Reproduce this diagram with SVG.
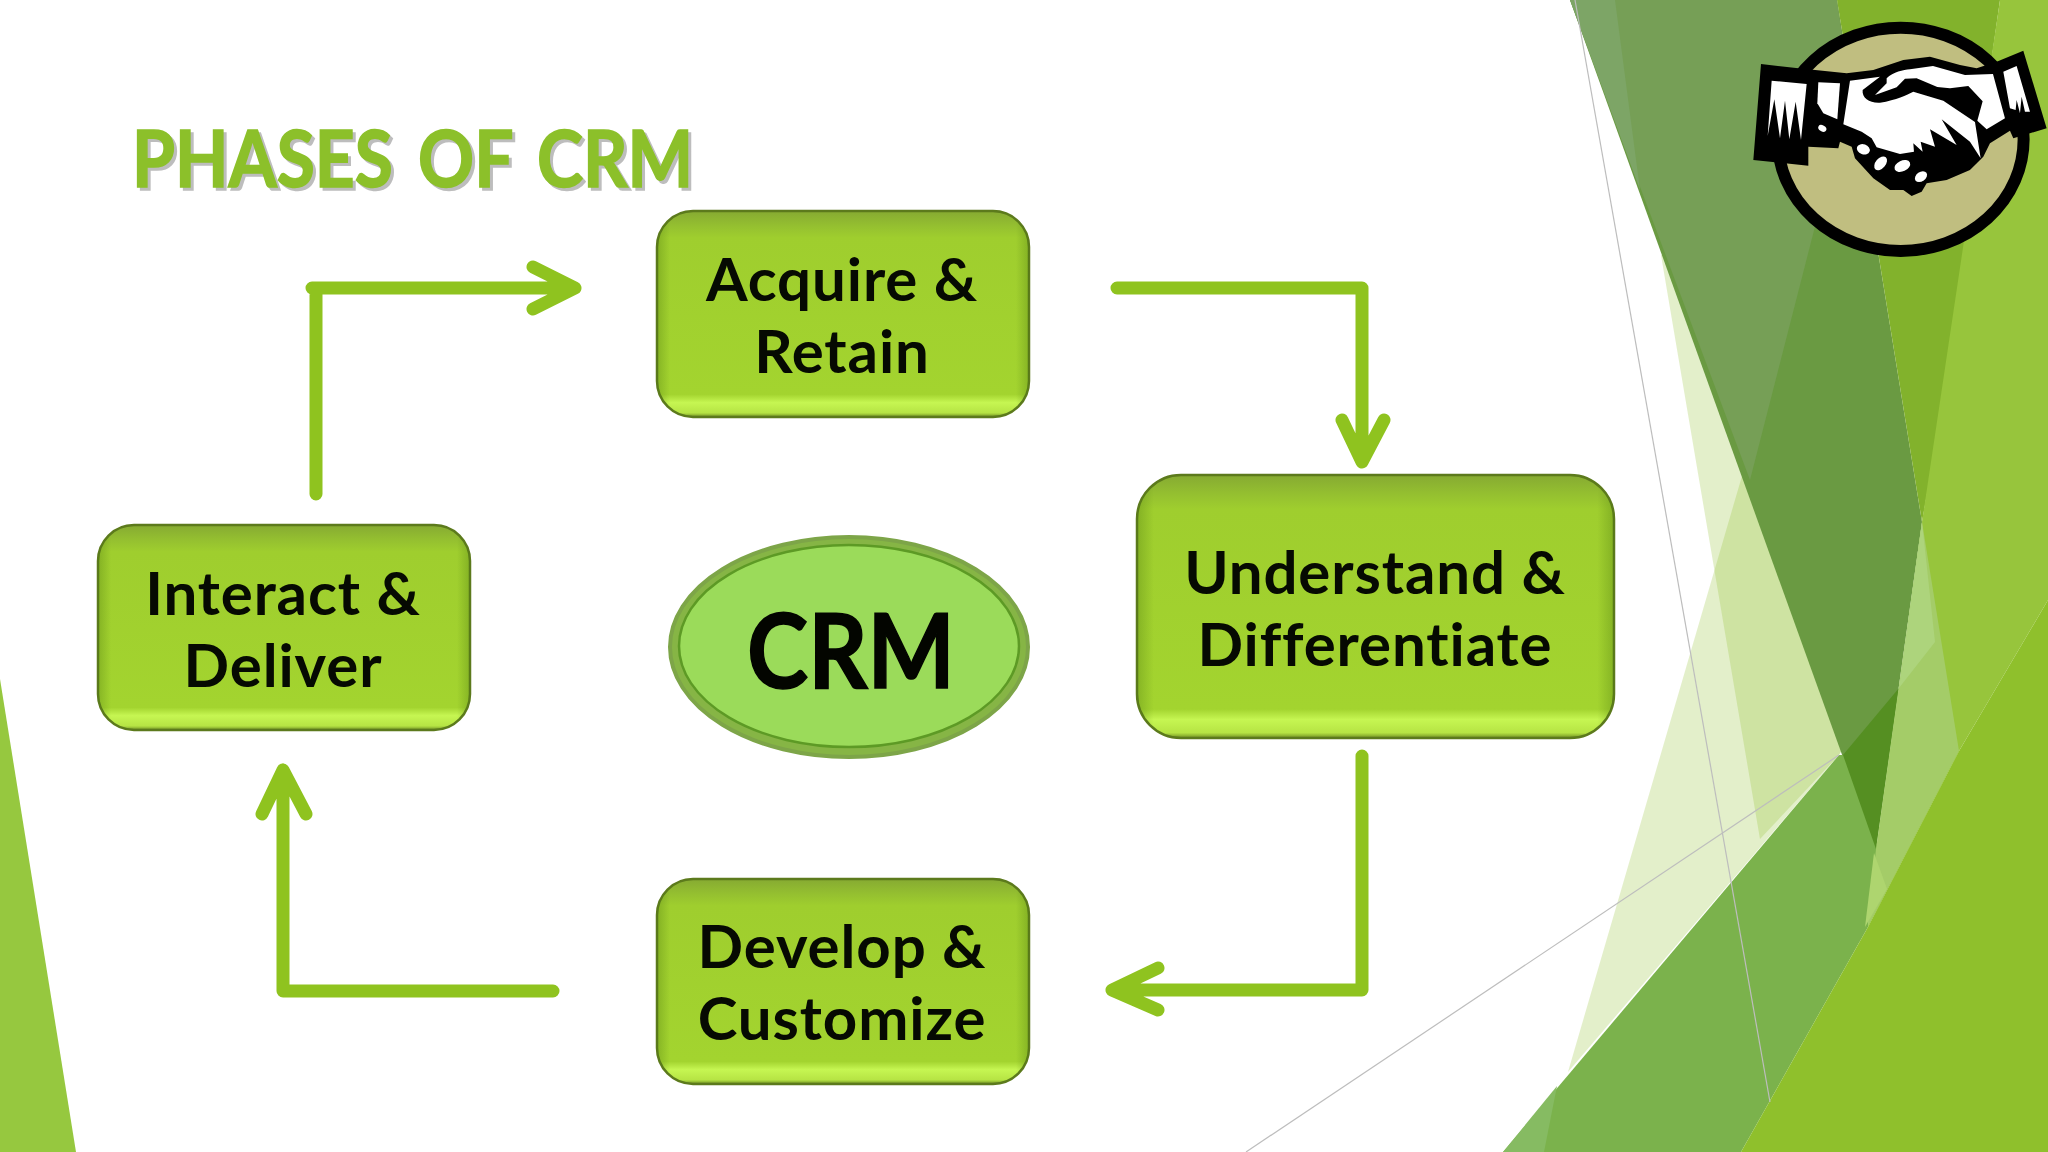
<svg xmlns="http://www.w3.org/2000/svg" width="2048" height="1152" viewBox="0 0 2048 1152">
<style>
.lbl{font-family:"Lato","Noto Sans",sans-serif;font-weight:700;font-size:60px;letter-spacing:.9px;fill:#060a02;text-anchor:middle}
.crm{font-family:"Lato","Noto Sans",sans-serif;font-weight:700;font-size:104px;fill:#030500;stroke:#030500;stroke-width:1.5;text-anchor:middle}
.ttl{font-family:"Lato","Noto Sans",sans-serif;font-weight:700;font-size:78px;stroke-width:1.6;word-spacing:9.5px;text-anchor:start}
.box{fill:url(#bx);stroke:#5c7a1c;stroke-width:2.5}
.edge{fill:url(#ed)}
.con{fill:none;stroke:#8fc31f;stroke-width:13;stroke-linecap:round;stroke-linejoin:round}
.thin{stroke:#bdbdbd;stroke-width:1.2;fill:none}
.p{fill:#8fc02c;fill-opacity:.25}
</style>
<defs>
<linearGradient id="bx" x1="0" y1="0" x2="0" y2="1">
<stop offset="0" stop-color="#86aa32"/><stop offset=".07" stop-color="#94bf30"/><stop offset=".13" stop-color="#9fce2e"/>
<stop offset=".89" stop-color="#a3d42f"/><stop offset=".93" stop-color="#c6f652"/><stop offset=".98" stop-color="#b6e444"/><stop offset="1" stop-color="#6f8f22"/>
</linearGradient>
<linearGradient id="ed" x1="0" y1="0" x2="1" y2="0">
<stop offset="0" stop-color="#4f7a10" stop-opacity=".35"/><stop offset=".035" stop-color="#4f7a10" stop-opacity="0"/>
<stop offset=".965" stop-color="#4f7a10" stop-opacity="0"/><stop offset="1" stop-color="#4f7a10" stop-opacity=".35"/>
</linearGradient>
</defs>
<rect width="2048" height="1152" fill="#fff"/>
<g id="background">
<polygon points="0,679 76,1152 0,1152" fill="#96c83f"/>
<polygon class="p" points="1742,476 1780,476 1860,720 1839,755 1568,1072"/>
<polygon class="p" points="1661,255 1700,255 1860,720 1839,755 1760,839"/>
<polygon points="1570,0 1837,0 1922,522 1876,849" fill="#6a9a42"/>
<polygon points="1570,0 1837,0 1850,90 1750,480" fill="#769f56"/>
<polygon points="1570,0 1615,0 1640,190" fill="#7da566"/>
<polygon points="1837,0 2000,0 1940,420 1922,522" fill="#82b22c"/>
<polygon points="1839,755 1850,755 1878,849 1868,927 1741,1152 1503,1152" fill="#7bb24c"/>
<polygon points="1503,1152 1557,1086 1544,1152" fill="#86bb62"/>
<polygon points="1899,688 1876,849 1843,755" fill="#558f22"/>
<polygon points="2000,0 2048,0 2048,600 1959,751 1868,927 1922,522" fill="#97c53c"/>
<polygon points="1922,522 1959,751 1868,927 1876,849" fill="#a4cc68"/>
<polygon points="1922,522 1935,642 1899,688" fill="#add47c"/>
<polygon points="1741,1152 1868,927 1959,751 2048,600 2048,1152" fill="#8fc02c"/>
<polygon points="1874,853 1887,889 1865,927" fill="#aed56f"/>
<line class="thin" x1="1575" y1="0" x2="1770" y2="1102"/>
<line class="thin" x1="1839" y1="755" x2="1246" y2="1152"/>
</g>
<g id="title"><text class="ttl" transform="translate(135 190) scale(.89 1)" fill="#a8a8a8" stroke="#a8a8a8" opacity=".75">PHASES OF CRM</text><text class="ttl" transform="translate(132 187) scale(.89 1)" fill="#8cc02a" stroke="#8cc02a">PHASES OF CRM</text></g>
<g id="connectors">
<path class="con" d="M316,494V288M312,288H572M533,267L575,288L533,309"/>
<path class="con" d="M1117,288H1362V460M1342,420L1362,462L1384,420"/>
<path class="con" d="M1362,756V990H1113M1158,968L1112,990L1158,1010"/>
<path class="con" d="M553,991H283V770M262,814L283,770L306,814"/>
</g>
<g id="acquire"><rect class="box" x="657" y="211" width="372" height="206" rx="36"/><rect class="edge" x="657" y="211" width="372" height="206" rx="36"/><text class="lbl" x="842" y="301">Acquire &amp;</text><text class="lbl" x="842" y="373">Retain</text></g>
<g id="understand"><rect class="box" x="1137" y="475" width="477" height="263" rx="44"/><rect class="edge" x="1137" y="475" width="477" height="263" rx="44"/><text class="lbl" x="1375" y="594">Understand &amp;</text><text class="lbl" x="1375" y="666">Differentiate</text></g>
<g id="interact"><rect class="box" x="98" y="525" width="372" height="205" rx="36"/><rect class="edge" x="98" y="525" width="372" height="205" rx="36"/><text class="lbl" x="283" y="615">Interact &amp;</text><text class="lbl" x="283" y="687">Deliver</text></g>
<g id="develop"><rect class="box" x="657" y="879" width="372" height="205" rx="36"/><rect class="edge" x="657" y="879" width="372" height="205" rx="36"/><text class="lbl" x="842" y="968">Develop &amp;</text><text class="lbl" x="842" y="1040">Customize</text></g>
<g id="crm"><ellipse cx="849" cy="647" rx="179" ry="110" fill="#86b545" stroke="#7da548" stroke-width="4"/><ellipse cx="849" cy="646" rx="170" ry="101" fill="#9bdb5a" stroke="#5d9a25" stroke-width="2.5"/><text class="crm" x="851" y="688" textLength="208" lengthAdjust="spacingAndGlyphs">CRM</text></g>
<g id="handshake" transform="translate(1730 10) scale(.3333)">
<ellipse cx="512" cy="388" rx="369" ry="335" fill="#c0be80" stroke="#000" stroke-width="36"/>
<path fill="#000" d="M93,162L205,175L350,190L430,180L520,150L600,140L690,165L740,175L800,155L880,122L950,355L850,385L840,362L780,400L760,440L720,480L650,510L590,520L575,545L545,558L520,540L480,540L430,505L375,445L365,410L330,395L325,415L235,410L235,467L70,450Z"/>
<g fill="#fff">
<path d="M125,212L230,222L213,390L197,275L178,388L165,272L150,385L133,268L113,378Z"/>
<path d="M265,217L330,220L322,328L280,310L262,280Z"/>
<ellipse cx="277" cy="355" rx="13" ry="9" transform="rotate(30 277 355)"/>
<path d="M360,212L450,200L398,240C395,265 420,280 450,278C500,270 530,255 550,245L640,272L735,336L752,445L720,395L635,328L680,405L600,358L615,410L572,395L578,425L550,400L552,425L510,432L440,412L425,385L395,365L340,343Z"/>
<path d="M470,205C490,185 520,180 540,178L609,168L705,195L789,192L825,325L770,358L742,332L758,274L715,228L660,235L622,231L560,205L525,206L500,232L435,255L470,220Z"/>
<path d="M820,185L860,168L900,305L885,305L875,260L870,310L860,270L857,300L840,295Z"/>
<ellipse cx="400" cy="418" rx="20" ry="15" transform="rotate(20 400 418)"/>
<ellipse cx="452" cy="460" rx="15" ry="24" transform="rotate(40 452 460)"/>
<ellipse cx="517" cy="468" rx="25" ry="16" transform="rotate(-25 517 468)"/>
<ellipse cx="573" cy="500" rx="20" ry="14" transform="rotate(-35 573 500)"/>
</g>
</g>
</svg>
